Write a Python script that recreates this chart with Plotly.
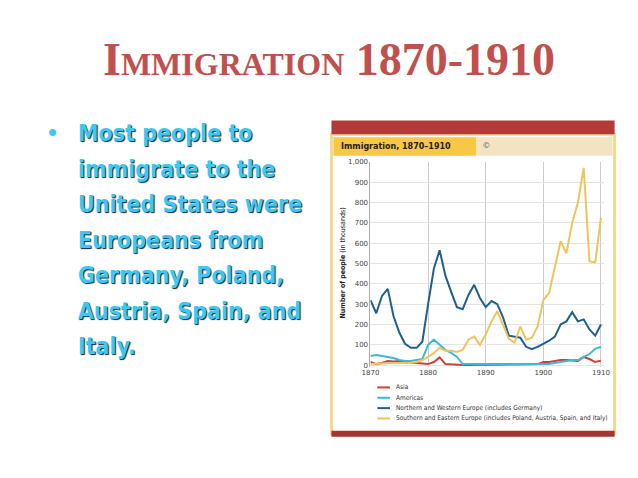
import plotly.graph_objects as go

years = list(range(1870, 1911))

asia = [15, 5, 10, 20, 18, 20, 15, 10, 10, 8, 5, 15, 38, 5, 3, 2, 1, 1, 1, 2,
        2, 2, 2, 2, 2, 2, 3, 3, 4, 5, 15, 15, 20, 25, 25, 22, 20, 40, 30, 15, 22]
americas = [45, 50, 45, 40, 35, 25, 20, 20, 25, 30, 100, 125, 100, 75, 60, 40, 5, 5, 5, 5,
            5, 5, 5, 5, 4, 4, 5, 5, 5, 5, 5, 5, 10, 15, 20, 25, 25, 40, 55, 80, 90]
nw_europe = [320, 255, 340, 375, 240, 160, 105, 85, 85, 115, 300, 475, 565, 440, 360, 285, 275, 345, 395, 330,
             285, 315, 300, 235, 145, 140, 135, 90, 78, 90, 105, 120, 140, 200, 215, 260, 215, 225, 175, 145, 200]
se_europe = [5, 5, 8, 10, 10, 10, 10, 10, 15, 25, 40, 60, 85, 70, 70, 65, 75, 125, 140, 100,
             150, 215, 265, 200, 130, 110, 190, 125, 135, 190, 320, 355, 480, 610, 550, 700, 800, 970, 510, 505, 725]

names = ["Asia", "Americas", "Northern and Western Europe (includes Germany)",
         "Southern and Eastern Europe (includes Poland, Austria, Spain, and Italy)"]
colors = ["#c8423c", "#3fb8d8", "#1f5f8b", "#efc45a"]

bullets = ["Most people to", "immigrate to the", "United States were", "Europeans from",
           "Germany, Poland,", "Austria, Spain, and", "Italy."]


def px(x, y):
    return x / 638, 1 - y / 478


def note(text, x, y, font, xanchor="center", **kw):
    ax, ay = px(x, y)
    return dict(text=text, x=ax, y=ay, xref="paper", yref="paper", xanchor=xanchor,
                yanchor="middle", showarrow=False, font=font, **kw)


fig = go.Figure()
for name, vals, col in zip(names, [asia, americas, nw_europe, se_europe], colors):
    fig.add_trace(go.Scatter(x=years, y=vals, name=name, mode="lines",
                             line=dict(color=col, width=2), showlegend=False))

shapes = [
    dict(type="rect", xref="paper", yref="paper", x0=322/638, x1=612/638, y0=1-428/478, y1=1-124/478,
         fillcolor="white", line=dict(color="#f3d98a", width=3), layer="below"),
    dict(type="rect", xref="paper", yref="paper", x0=322/638, x1=612/638, y0=1-124/478, y1=1-110/478,
         fillcolor="#b43a3a", line=dict(width=0), layer="below"),
    dict(type="rect", xref="paper", yref="paper", x0=322/638, x1=612/638, y0=1-431/478, y1=1-425/478,
         fillcolor="#a8332f", line=dict(width=0), layer="below"),
    dict(type="rect", xref="paper", yref="paper", x0=324/638, x1=470/638, y0=1-146/478, y1=1-127/478,
         fillcolor="#f7c843", line=dict(width=0), layer="below"),
    dict(type="rect", xref="paper", yref="paper", x0=470/638, x1=610/638, y0=1-146/478, y1=1-127/478,
         fillcolor="#f3e3c0", line=dict(width=0), layer="below"),
]

annotations = [
    note("Immigration 1870-1910", 319, 48,
         dict(family="Liberation Serif", size=46, color="#c0504d", variant="small-caps", weight="bold")),
    note("Immigration, 1870–1910", 330, 137,
         dict(family="DejaVu Sans", size=8, color="#222", weight="bold"), xanchor="left"),
    note("©", 481, 134, dict(size=8, color="#555")),
    note("<b>Number of people</b> (in thousands)", 334, 255,
         dict(family="DejaVu Sans Condensed", size=7, color="#222"), textangle=-90),
    note("•", 36, 122, dict(family="Liberation Sans", size=26, color="#3cc8f5")),
]
for i, line in enumerate(bullets):
    annotations.append(note(line, 60, 123 + i * 36,
                            dict(family="DejaVu Sans Condensed", size=23, color="#3cc8f5",
                                 weight="bold", shadow="1px 1px 1px #123"), xanchor="left"))

# hand-drawn legend
for i, (name, col) in enumerate(zip(names, colors)):
    yy = 381 + i * 10.5
    x0, y0 = px(369, yy)
    x1, _ = px(382, yy)
    shapes.append(dict(type="line", xref="paper", yref="paper", x0=x0, x1=x1, y0=y0, y1=y0,
                       line=dict(color=col, width=2)))
    annotations.append(note(name, 386, yy, dict(family="DejaVu Sans Condensed", size=6.5, color="#333"),
                            xanchor="left"))

fig.update_layout(
    width=638, height=478, margin=dict(l=0, r=0, t=0, b=0),
    paper_bgcolor="white", plot_bgcolor="white",
    shapes=shapes, annotations=annotations, showlegend=False,
    xaxis=dict(domain=[362/638, 601/638], range=[1870, 1910.5], tickvals=[1870, 1880, 1890, 1900, 1910],
               showgrid=True, gridcolor="#cccccc", zeroline=False, showline=False,
               tickfont=dict(family="DejaVu Sans", size=7, color="#444")),
    yaxis=dict(domain=[1-360/478, 1-152/478], range=[-8, 1000], dtick=100, tickformat=",",
               showgrid=True, gridcolor="#e4e4e4", zeroline=False, showline=True, linecolor="#aaa",
               tickfont=dict(family="DejaVu Sans", size=7, color="#444")),
)

fig.write_html("out.html")
